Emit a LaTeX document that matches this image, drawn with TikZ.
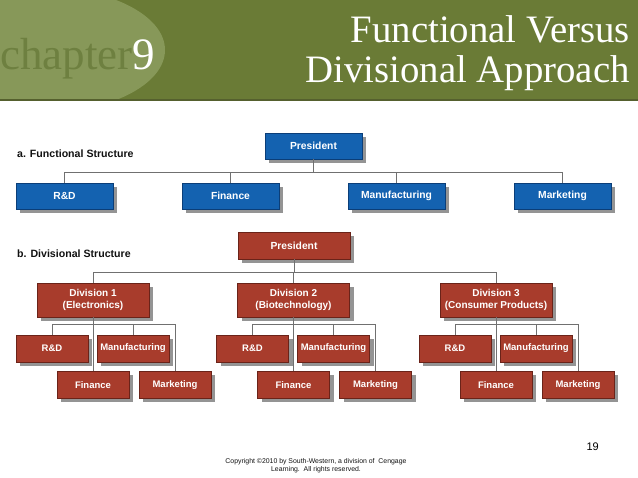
\documentclass[tikz,border=0pt]{standalone}
\usepackage{fontspec}
\setmainfont{Liberation Serif}
\setsansfont{Liberation Sans}
\usepackage{xcolor}
\usepackage{tikz}
\usetikzlibrary{shadows}
\definecolor{cBand}{HTML}{6A7B36}
\definecolor{cBandLite}{HTML}{879859}
\definecolor{cChap}{HTML}{6E8040}
\definecolor{cBandEdge}{HTML}{55602E}
\definecolor{cBlue}{HTML}{1462B0}
\definecolor{cBlueEdge}{HTML}{0B3E78}
\definecolor{cRed}{HTML}{A83C2C}
\definecolor{cRedEdge}{HTML}{6A2319}
\definecolor{cLine}{HTML}{707070}
\definecolor{cInk}{HTML}{111111}
\tikzset{
  obox/.style={draw=#1Edge,fill=#1,line width=0.5pt,text=white,align=center,inner sep=2pt,
    font=\sffamily\bfseries\fontsize{9.5}{11}\selectfont,
    drop shadow={shadow xshift=4pt,shadow yshift=-4pt,fill=black!42,opacity=1}},
  fbox/.style={obox=cBlue,minimum width=97pt,minimum height=26pt,font=\sffamily\bfseries\fontsize{10.3}{12}\selectfont},
  topbox/.style={obox=cRed,minimum width=112pt,minimum height=27pt,font=\sffamily\bfseries\fontsize{10.3}{12}\selectfont},
  divbox/.style={obox=cRed,minimum width=112pt,minimum height=34pt,font=\sffamily\bfseries\fontsize{10}{12.5}\selectfont},
  subbox/.style={obox=cRed,minimum width=72pt,minimum height=27pt},
  conn/.style={draw=cLine,line width=0.8pt},
  seclbl/.style={anchor=base west,inner sep=0pt,text=cInk,font=\sffamily\bfseries\fontsize{10.6}{12}\selectfont},
}
\begin{document}
\begin{tikzpicture}[x=1pt,y={(0pt,-1pt)}]
  \useasboundingbox (0,0) rectangle (638,478);
  % header band
  \fill[cBand] (0,0) rectangle (638,100);
  \fill[cBandEdge] (0,99) rectangle (638,101.5);
  \begin{scope}
    \clip (0,0) rectangle (638,99);
    \fill[cBandLite] (40,50) ellipse [x radius=125,y radius=63];
  \end{scope}
  \node[anchor=base west,inner sep=0pt,font=\fontsize{45}{45}\selectfont] (chap) at (0,70)
    {\textcolor{cChap}{chapter}\textcolor{white}{9}};
  \node[anchor=base east,inner sep=0pt,text=white,font=\fontsize{38.8}{39}\selectfont] (t1) at (630,43) {Functional Versus};
  \node[anchor=base east,inner sep=0pt,text=white,font=\fontsize{38.8}{39}\selectfont] (t2) at (630,83) {Divisional Approach};

  % a. functional structure
  \node[seclbl] (la) at (17,157.5) {a. Functional Structure};
  \node[fbox] (fp) at (313.5,146) {President};
  \foreach \n/\x/\t in {rd/64.5/R\&D,fin/230.5/Finance,man/396.5/Manufacturing,mkt/562.5/Marketing}{
    \node[fbox] (f\n) at (\x,196) {\t};
    \draw[conn] (fp.south) -- ++(0,13.5) -| (f\n.north);
  }

  % b. divisional structure
  \node[seclbl] (lb) at (17,257.5) {b. Divisional Structure};
  \node[topbox] (dp) at (294,245.5) {President};
  \foreach \i/\x/\t in {1/93/Electronics,2/293.5/Biotechnology,3/496/Consumer Products}{
    \node[divbox] (d\i) at (\x,300) {Division \i\\(\t)};
    \draw[conn] (dp.south) -- ++(0,12.7) -| (d\i.north);
    \node[subbox] (rd\i)  at (\x-41,348.5) {R\&D};
    \node[subbox] (man\i) at (\x+40,348.5) {Manufacturing};
    \node[subbox] (fin\i) at (\x,385)      {Finance};
    \node[subbox] (mkt\i) at (\x+82,385)   {Marketing};
    \draw[conn] (d\i.south) -- ++(0,7) -| (rd\i.north);
    \draw[conn] (d\i.south) -- ++(0,7) -| (man\i.north);
    \draw[conn] (d\i.south) -- ++(0,7) -| (mkt\i.north);
    \draw[conn] (d\i.south) -- (fin\i.north);
  }

  % footer
  \node[anchor=base east,inner sep=0pt,font=\sffamily\fontsize{11}{11}\selectfont] (pg) at (599,451) {19};
  \node[anchor=north,inner sep=0pt,align=center,text=cInk,font=\sffamily\fontsize{6.9}{8.5}\selectfont] (cpy) at (316,458)
    {Copyright \textcopyright2010 by South-Western, a division of\ \ Cengage\\Learning.\ \ All rights reserved.};
\end{tikzpicture}
\end{document}
